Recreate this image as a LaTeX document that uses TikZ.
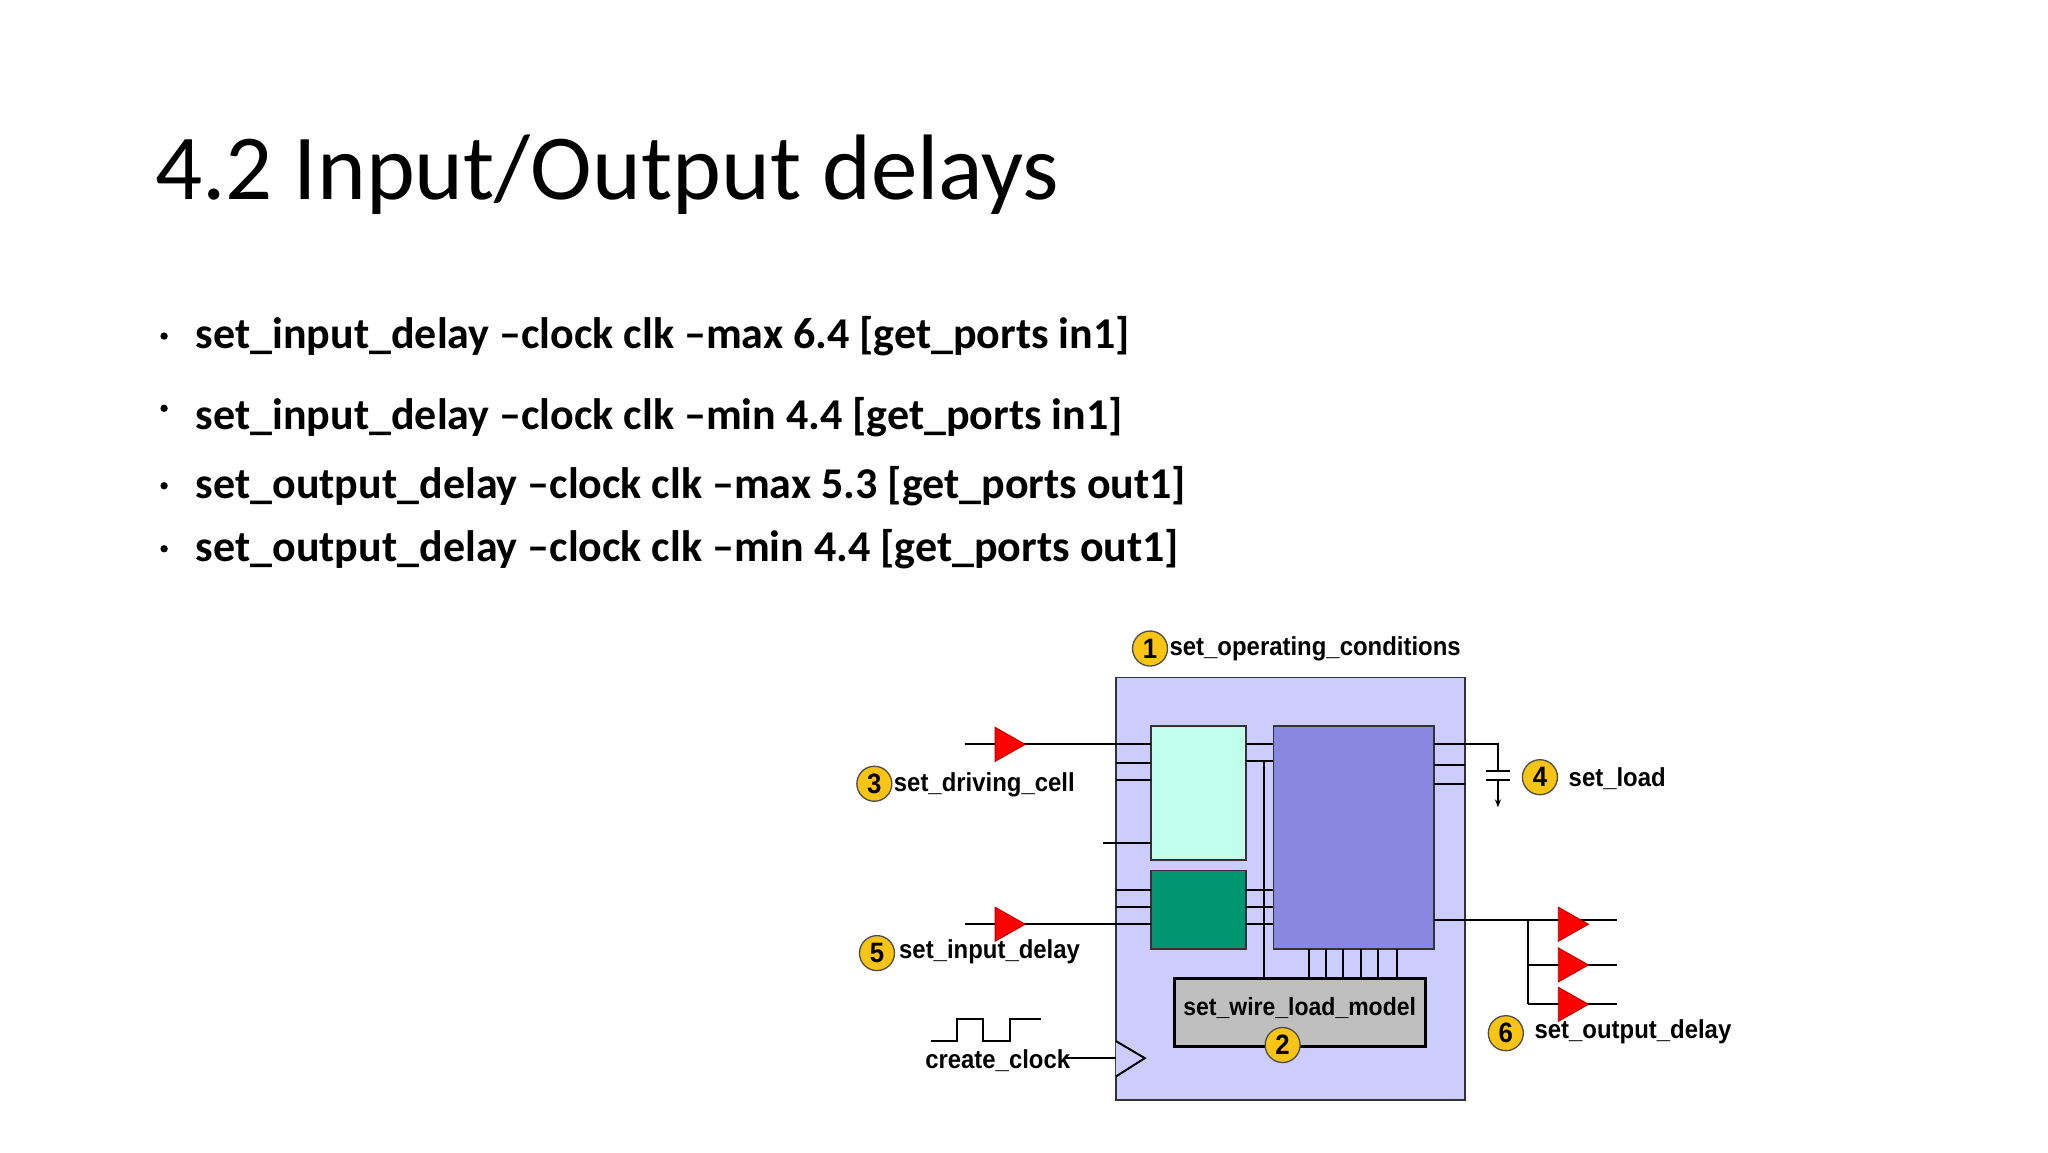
\documentclass[tikz,border=0pt]{standalone}
\usepackage{fontspec}
\setmainfont{Carlito}
\newfontfamily\arialbf{Liberation Sans}[FakeStretch=0.92]
\usetikzlibrary{positioning,arrows.meta}
\definecolor{chip}{RGB}{204,204,255}
\definecolor{mint}{RGB}{191,255,235}
\definecolor{teal}{RGB}{0,150,112}
\definecolor{core}{RGB}{136,136,224}
\definecolor{tag}{RGB}{250,196,20}
\tikzset{
  blk/.style={draw=black!80, line width=1.8pt},
  wire/.style={line width=2pt},
  lbl/.style={font=\arialbf\fontsize{26}{26}\selectfont\bfseries, inner sep=1pt},
  num/.style={circle, fill=tag, draw=black!70, line width=1.3pt, minimum size=35pt, inner sep=0pt,
    font=\arialbf\fontsize{28}{28}\selectfont\bfseries},
  buf/.style={fill=red, draw=red!70!black, line width=0.8pt},
  bullet/.style={anchor=west, font=\fontsize{44}{44}\selectfont\bfseries, inner sep=0pt}
}
\begin{document}
\begin{tikzpicture}[x=1.3128pt, y=-1.3128pt]
\useasboundingbox (0,0) rectangle (1560,877.7);
% title and bullets
\node[anchor=west, inner sep=0pt, font=\fontsize{93}{93}\selectfont] (title) at (118,133) {4.2 Input/Output delays};
\foreach \y/\t in {256/{set\_input\_delay –clock clk –max 6.4 [get\_ports in1]},
                   318/{set\_input\_delay –clock clk –min 4.4 [get\_ports in1]},
                   370/{set\_output\_delay –clock clk –max 5.3 [get\_ports out1]},
                   418/{set\_output\_delay –clock clk –min 4.4 [get\_ports out1]}}{
  \node[bullet] at (149,\y) {\t};
}
\foreach \y in {256,311,370,418} \fill (125,\y) circle (2.8);
% chip and blocks
\draw[blk, fill=chip] (850,516) rectangle (1116,838);
\draw[blk, fill=mint] (877,553) rectangle (949,655);
\draw[blk, fill=teal] (877,663) rectangle (949,723);
\draw[blk, fill=core] (970,553) rectangle (1092,723);
\draw[line width=3pt, fill=black!25] (895,745) rectangle (1086,797);
\node[lbl, font=\arialbf\fontsize{25}{25}\selectfont\bfseries] (wlm) at (990,768) {set\_wire\_load\_model};
% wires inside
\foreach \y in {581,594} \draw[wire] (850,\y) -- (877,\y);
\foreach \y in {678,691} \draw[wire] (850,\y) -- (877,\y);
\draw[wire] (840,642) -- (877,642);
\foreach \y in {567,580} \draw[wire] (949,\y) -- (970,\y);
\foreach \y in {678,691,704} \draw[wire] (949,\y) -- (970,\y);
\draw[wire] (963,580) -- (963,745);
\foreach \x in {997,1010,1023,1037,1050,1064} \draw[wire] (\x,723) -- (\x,745);
\foreach \y in {583,597} \draw[wire] (1092,\y) -- (1116,\y);
% inputs
\draw[wire] (735,567) -- (877,567);
\draw[wire] (735,704) -- (877,704);
\foreach \y in {567,704} \draw[buf] (758,\y-13) -- (781,\y) -- (758,\y+13) -- cycle;
% load
\draw[wire] (1092,567) -- (1141,567) -- (1141,587);
\draw[wire] (1132,587) -- (1150,587) (1132,594) -- (1150,594);
\draw[wire, -{Stealth[length=8pt]}] (1141,594) -- (1141,615);
% outputs
\draw[wire] (1092,701) -- (1232,701);
\draw[wire] (1164,701) -- (1164,765);
\foreach \y in {735,765} \draw[wire] (1164,\y) -- (1232,\y);
\foreach \y in {704,735,765} \draw[buf] (1187,\y-13) -- (1210,\y) -- (1187,\y+13) -- cycle;
% clock
\draw[line width=2pt, fill=chip] (850,793) -- (872,806) -- (850,820);
\draw[wire] (812,806) -- (850,806);
\draw[wire] (709,793) -- (729,793) -- (729,776) -- (749,776) -- (749,793) -- (769,793) -- (769,776) -- (793,776);
\node[lbl] (clk) at (760,808) {create\_clock};
% tags
\node[num] (n1) at (876,494) {1};
\node[lbl, anchor=west] (oc) at (890,494) {set\_operating\_conditions};
\node[num] (n2) at (977,796) {2};
\node[num] (n3) at (666,597) {3};
\node[lbl, anchor=west] (dc) at (680,598) {set\_driving\_cell};
\node[num] (n4) at (1173,592) {4};
\node[lbl, anchor=west] (ld) at (1194,593) {set\_load};
\node[num] (n5) at (668,726) {5};
\node[lbl, anchor=west] (id) at (684,725) {set\_input\_delay};
\node[num] (n6) at (1147,787) {6};
\node[lbl, anchor=west] (od) at (1168,786) {set\_output\_delay};
\end{tikzpicture}
\end{document}
